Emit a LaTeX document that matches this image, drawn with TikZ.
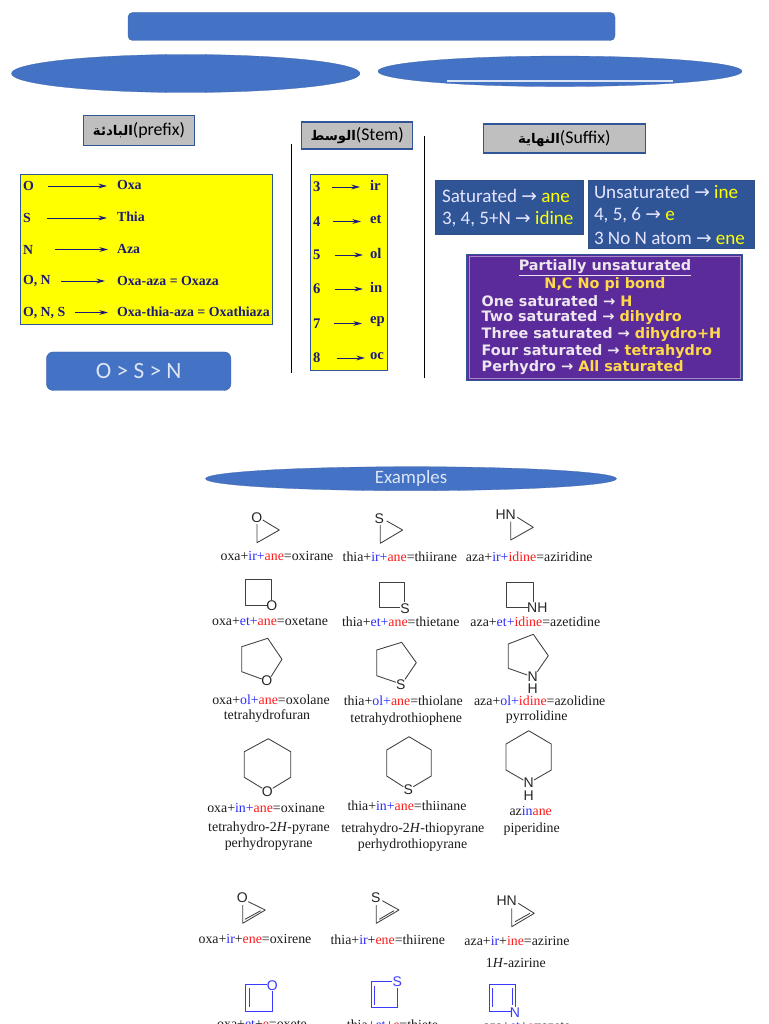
\documentclass[tikz,border=0pt]{standalone}
\usepackage{fontspec}
\setmainfont{Liberation Serif}
\setsansfont{Liberation Sans}
\newfontfamily\carl{Carlito}
\newfontfamily\djv{DejaVu Sans}
\newfontfamily\arabfont[Script=Arabic]{DejaVu Sans}
\TeXXeTstate=1
\usetikzlibrary{shapes.geometric,arrows.meta}
\definecolor{mso}{HTML}{4472C4}
\definecolor{msodark}{HTML}{2F5597}
\definecolor{hdgray}{HTML}{BFBFBF}
\definecolor{navy}{HTML}{1C1C78}
\definecolor{yel}{HTML}{FFFF00}
\definecolor{purp}{HTML}{5B2A9B}
\definecolor{gold}{HTML}{FFD94A}
\definecolor{paleT}{HTML}{EDE6EE}
\definecolor{labblue}{HTML}{2A2AFF}
\definecolor{labred}{HTML}{FF1A1A}
\definecolor{molblue}{HTML}{3A3AFF}
\definecolor{pale}{HTML}{DCE6F5}
\definecolor{inktxt}{HTML}{1A1A1A}
\newcommand{\fs}[1]{\fontsize{#1}{#1}\selectfont}
\newcommand{\bl}[1]{\textcolor{labblue}{#1}}
\newcommand{\rd}[1]{\textcolor{labred}{#1}}
\newcommand{\yl}[1]{\textcolor{yel}{#1}}
\newcommand{\gd}[1]{\textcolor{gold}{#1}}
\newcommand{\ar}{{\djv\fs{14}→}}
\newcommand{\arp}{{\djv\bfseries\fs{11}→}}
\tikzset{
  x=.75pt,y=-.75pt,
  boxbase/.style={inner sep=0,outer sep=0,anchor=center},
  titlebar/.style={boxbase,fill=mso,draw=mso!85!black,line width=.3pt,rounded corners=3.5pt},
  oval/.style={boxbase,ellipse,fill=mso,draw=mso!85!black,line width=.2pt},
  hdbox/.style={boxbase,fill=hdgray,draw=msodark,line width=.8pt,font=\carl\fs{13.4},text=black},
  yelbox/.style={boxbase,fill=yel,draw=msodark,line width=.9pt},
  bluebox/.style={boxbase,fill=msodark,draw=mso!70!black,line width=.5pt},
  purpbox/.style={boxbase,fill=purp,draw=msodark,line width=1pt},
  ytext/.style={inner sep=0,outer sep=0,anchor=west,text=navy,font=\bfseries\fs{10.4}},
  stext/.style={inner sep=0,outer sep=0,anchor=west,text=navy,font=\bfseries\fs{11}},
  arr/.style={draw=navy,line width=.7pt,-{Stealth[length=6.5pt,width=3.6pt]}},
  btext/.style={inner sep=0,outer sep=0,anchor=west,text=white!90!blue,font=\carl\fs{14.3}},
  ptext/.style={inner sep=0,outer sep=0,anchor=west,text=paleT,font=\djv\bfseries\fs{10.8}},
  pcent/.style={inner sep=0,outer sep=0,anchor=center,font=\djv\bfseries\fs{10.8}},
  lab/.style={inner sep=0,outer sep=0,anchor=center,text=inktxt,font=\fs{10.4}},
  atom/.style={inner sep=0,outer sep=0,anchor=center,text=black!85,font=\sffamily\fs{10.5}},
  atomb/.style={atom,text=molblue},
  bond/.style={draw=black!75,line width=.65pt,line join=round},
  bondb/.style={draw=molblue,line width=.75pt,line join=miter},
  vrule/.style={draw=black,line width=.9pt}
}
\begin{document}
\begin{tikzpicture}
\useasboundingbox (0,0) rectangle (768,1024);
\clip (0,0) rectangle (768,1024);

% top banners
\node[titlebar,minimum width=487*.75pt,minimum height=28*.75pt] (title) at (371.5,26.5) {};
\node[oval,minimum width=348.5*.75pt,minimum height=38*.75pt] (ovalL) at (185.7,73.5) {};
\node[oval,minimum width=364*.75pt,minimum height=30.5*.75pt] (ovalR) at (560,71.3) {};
\coordinate (ulA) at (447,81);
\coordinate (ulB) at (673,81);
\draw[pale,line width=1pt] (ulA) -- (ulB);

% headers
\node[hdbox,minimum width=111*.75pt,minimum height=29.5*.75pt] (hdP) at (139,130.3) {{\arabfont\bfseries\fs{10}\beginR البادئة\endR}(prefix)};
\node[hdbox,minimum width=111.5*.75pt,minimum height=27*.75pt] (hdS) at (357.2,135.5) {{\arabfont\bfseries\fs{10}\beginR الوسط\endR}(Stem)};
\node[hdbox,minimum width=162.5*.75pt,minimum height=29*.75pt] (hdF) at (564.3,138.5) {{\arabfont\bfseries\fs{10}\beginR النهاية\endR}(Suffix)};

% dividers
\coordinate (d1a) at (291.5,143.5);
\coordinate (d1b) at (291.5,373);
\coordinate (d2a) at (424.5,135.5);
\coordinate (d2b) at (424.5,377.5);
\draw[vrule] (d1a) -- (d1b);
\draw[vrule] (d2a) -- (d2b);

% prefix table
\node[yelbox,minimum width=252*.75pt,minimum height=150*.75pt] (ybox) at (146.4,249.3) {};
\node[ytext] (p1) at (23,186) {O};
\node[ytext] (q1) at (117,185) {Oxa};
\node[ytext] (p2) at (23,218) {S};
\node[ytext] (q2) at (117,217) {Thia};
\node[ytext] (p3) at (23,249.5) {N};
\node[ytext] (q3) at (117,248.5) {Aza};
\node[ytext] (p4) at (23,281) {O, N};
\node[ytext] (q4) at (117,280.5) {Oxa-aza = Oxaza};
\node[ytext] (p5) at (23,312.5) {O, N, S};
\node[ytext] (q5) at (117,311.5) {Oxa-thia-aza = Oxathiaza};
\draw[arr,shorten <=11pt,shorten >=7.5pt] (p1.east) -- (p1.east -| q1.west);
\draw[arr,shorten <=12.5pt,shorten >=7.5pt] (p2.east) -- (p2.east -| q2.west);
\draw[arr,shorten <=16.5pt,shorten >=6.75pt] (p3.east) -- (p3.east -| q3.west);
\draw[arr,shorten <=8pt,shorten >=9pt] (p4.east) -- (p4.east -| q4.west);
\draw[arr,shorten <=7.5pt,shorten >=6.75pt] (p5.east) -- (p5.east -| q5.west);

% stem table
\node[yelbox,minimum width=77*.75pt,minimum height=196.4*.75pt] (zbox) at (349.2,272.5) {};
\node[stext] (n3) at (313,187) {3};
\node[stext] (s3) at (370,185) {ir};
\node[stext] (n4) at (313,221.5) {4};
\node[stext] (s4) at (370,219) {et};
\node[stext] (n5) at (313,255) {5};
\node[stext] (s5) at (370,253) {ol};
\node[stext] (n6) at (313,289) {6};
\node[stext] (s6) at (370,287) {in};
\node[stext] (n7) at (313,323.5) {7};
\node[stext] (s7) at (370,322) {ep};
\node[stext] (n8) at (313,358) {8};
\node[stext] (s8) at (370,356) {oc};
\draw[arr,shorten <=8.6pt,shorten >=7.5pt] (n3.east) -- (n3.east -| s3.west);
\draw[arr,shorten <=9.3pt,shorten >=6.75pt] (n4.east) -- (n4.east -| s4.west);
\draw[arr,shorten <=10.8pt,shorten >=5.25pt] (n5.east) -- (n5.east -| s5.west);
\draw[arr,shorten <=10.8pt,shorten >=5.25pt] (n6.east) -- (n6.east -| s6.west);
\draw[arr,shorten <=10pt,shorten >=6pt] (n7.east) -- (n7.east -| s7.west);
\draw[arr,shorten <=12.3pt,shorten >=3.75pt] (n8.east) -- (n8.east -| s8.west);

% priority
\node[titlebar,rounded corners=5pt,minimum width=184.5*.75pt,minimum height=38.5*.75pt,text=pale,font=\carl\fs{17.5}] (prio) at (138.7,371.2) {O > S > N};

% suffix boxes
\node[bluebox,minimum width=147.3*.75pt,minimum height=54.3*.75pt] (bA) at (509.3,207.2) {};
\node[bluebox,minimum width=166.7*.75pt,minimum height=68.7*.75pt] (bB) at (671.3,214.4) {};
\node[btext] (a1) at (442,195.7) {Saturated \ar{} \yl{ane}};
\node[btext] (a2) at (442,219) {3, 4, 5+N \ar{} \yl{idine}};
\node[btext] (b1) at (594,191.5) {Unsaturated \ar{} \yl{ine}};
\node[btext] (b2) at (594,215.5) {4, 5, 6 \ar{} \yl{e}};
\node[btext] (b3) at (594,238) {3 No N atom \ar{} \yl{ene}};

% partially unsaturated
\node[purpbox,minimum width=275.3*.75pt,minimum height=126.4*.75pt] (pur) at (604.7,317.5) {};
\node[boxbase,draw=purp!55!white,line width=.7pt,minimum width=271*.75pt,minimum height=122*.75pt] (purin) at (pur.center) {};
\node[pcent,text=paleT] (pu0) at (605,267.7) {\underline{Partially unsaturated}};
\node[pcent,text=gold] (pu1) at (605,284.3) {N,C No pi bond};
\node[ptext] (pu2) at (481.7,301) {One saturated \arp{} \gd{H}};
\node[ptext] (pu3) at (481.7,317.7) {Two saturated \arp{} \gd{dihydro}};
\node[ptext] (pu4) at (481.7,334.7) {Three saturated \arp{} \gd{dihydro+H}};
\node[ptext] (pu5) at (481.7,351.3) {Four saturated \arp{} \gd{tetrahydro}};
\node[ptext] (pu6) at (481.7,368) {Perhydro \arp{} \gd{All saturated}};

% examples banner
\node[oval,minimum width=411*.75pt,minimum height=24*.75pt,text=pale,font=\carl\fs{14.2}] (ex) at (411,478.7) {Examples};

% row 1
\node[atom] (a11) at (256.7,517.7) {O};
\draw[bond] (262.7,520) -- (279.3,530) -- (257,542.7) -- (257,524);
\node[lab] (l11) at (277,555.7) {oxa+\bl{ir+}\rd{ane}=oxirane};
\node[atom] (a12) at (379.3,518.3) {S};
\draw[bond] (386.7,521) -- (402.7,530) -- (380.3,543.3) -- (380.3,525);
\node[lab] (l12) at (399.8,556.3) {thia+\bl{ir+}\rd{ane}=thiirane};
\node[atom] (a13) at (505.7,515) {HN};
\draw[bond] (517.3,517.3) -- (533.3,527.3) -- (510.7,540) -- (510.7,521.7);
\node[lab] (l13) at (529.3,556.3) {aza+\bl{ir+}\rd{idine}=aziridine};

% row 2
\node[atom] (a21) at (271.7,605.3) {O};
\draw[bond] (271.7,600) -- (271.7,579) -- (245.7,579) -- (245.7,605.7) -- (266.5,605.7);
\node[lab] (l21) at (270,621.3) {oxa+\bl{et+}\rd{ane}=oxetane};
\node[atom] (a22) at (405,608.3) {S};
\draw[bond] (404.7,602) -- (404.7,582) -- (379.3,582) -- (379.3,607.3) -- (400,607.3);
\node[lab] (l22) at (400.7,621.7) {thia+\bl{et+}\rd{ane}=thietane};
\node[atom] (a23) at (537.3,608) {NH};
\draw[bond] (533.3,602) -- (533.3,582) -- (506.3,582) -- (506.3,607.3) -- (528,607.3);
\node[lab] (l23) at (535.3,621.7) {aza+\bl{et+}\rd{idine}=azetidine};

% row 3
\node[atom] (a31) at (266.7,681) {O};
\draw[bond] (271,676.7) -- (282,659.3) -- (267.7,638.3) -- (241.7,646.7) -- (241.7,671.7) -- (261.7,679);
\node[lab] (l31) at (271,700) {oxa+\bl{ol+}\rd{ane}=oxolane};
\node[lab] (m31) at (267,716.3) {tetrahydrofuran};
\node[atom] (a32) at (400.7,685) {S};
\draw[bond] (405,679.3) -- (416.3,662.7) -- (401.7,642.3) -- (376.7,650) -- (376.7,675.7) -- (396,682.3);
\node[lab] (l32) at (403.3,700.7) {thia+\bl{ol+}\rd{ane}=thiolane};
\node[lab] (m32) at (406.3,719) {tetrahydrothiophene};
\node[atom] (a33) at (532.7,676.2) {N};
\node[atom] (h33) at (532.7,688.8) {H};
\draw[bond] (537.3,671.7) -- (548.3,655.7) -- (533.3,634.3) -- (508.3,644) -- (508.3,668.3) -- (527.3,675);
\node[lab] (l33) at (539.7,701) {aza+\bl{ol+}\rd{idine}=azolidine};
\node[lab] (m33) at (536.7,717) {pyrrolidine};

% row 4
\node[atom] (a41) at (267.3,791.7) {O};
\draw[bond] (272.7,788.3) -- (290.7,777.3) -- (290.7,751.7) -- (268.3,738.7) -- (244.3,751.7) -- (244.3,777.3) -- (262.3,788.3);
\node[lab] (l41) at (266,808.3) {oxa+\bl{in+}\rd{ane}=oxinane};
\node[lab] (m41) at (269,828) {tetrahydro-2\textit{H}-pyrane};
\node[lab] (k41) at (268.7,844) {perhydropyrane};
\node[atom] (a42) at (408.3,790) {S};
\draw[bond] (413.3,786.7) -- (431.3,776) -- (431.3,750) -- (409,736.7) -- (386.7,750) -- (386.7,776) -- (403.3,786.7);
\node[lab] (l42) at (407,806) {thia+\bl{in+}\rd{ane}=thiinane};
\node[lab] (m42) at (412.8,829.3) {tetrahydro-2\textit{H}-thiopyrane};
\node[lab] (k42) at (412.5,845.3) {perhydrothiopyrane};
\node[atom] (a43) at (528.7,783) {N};
\node[atom] (h43) at (528.7,795.5) {H};
\draw[bond] (534,780) -- (551.3,770) -- (551.3,744) -- (528.7,730.7) -- (506,744) -- (506,770) -- (523.3,780);
\node[lab] (l43) at (530.7,810.7) {az\bl{in}\rd{ane}};
\node[lab] (m43) at (531.7,829) {piperidine};

% row 5
\node[atom] (a51) at (242.3,897.7) {O};
\draw[bond] (248.3,901.7) -- (265.3,910) -- (242.7,923.3) -- (242.7,905);
\draw[bond] (245,919.3) -- (260.7,910.7);
\node[lab] (l51) at (255,939) {oxa+\bl{ir}+\rd{ene}=oxirene};
\node[atom] (a52) at (375.7,897.3) {S};
\draw[bond] (382.3,900.7) -- (399,910) -- (376.3,923.3) -- (376.3,905);
\draw[bond] (379.3,919.3) -- (394,910.7);
\node[lab] (l52) at (387.8,940) {thia+\bl{ir}+\rd{ene}=thiirene};
\node[atom] (a53) at (506.7,901) {HN};
\draw[bond] (518.3,903.3) -- (534.3,913.3) -- (511.7,926.7) -- (511.7,908.3);
\draw[bond] (515,921.7) -- (530,913.3);
\node[lab] (l53) at (517,941) {aza+\bl{ir}+\rd{ine}=azirine};
\node[lab] (m53) at (515.8,962.7) {1\textit{H}-azirine};

% row 6 (cut by the page edge)
\node[atomb] (a61) at (272.3,985.3) {O};
\draw[bondb] (267.2,984.7) -- (245.7,984.7) -- (245.7,1011) -- (272.3,1011) -- (272.3,990.7);
\draw[bondb] (249.3,988.3) -- (249.3,1007.3);
\node[lab] (l61) at (262,1024.5) {oxa+\bl{et}+\rd{e}=oxete};
\node[atomb] (a62) at (397.3,982) {S};
\draw[bondb] (391.7,981.7) -- (371,981.7) -- (371,1007.7) -- (397.7,1007.7) -- (397.7,988.3);
\draw[bondb] (374.7,985.7) -- (374.7,1005);
\node[lab] (l62) at (392.5,1024.5) {thia+\bl{et}+\rd{e}=thiete};
\node[atomb] (a63) at (515,1012.3) {N};
\draw[bondb] (515.7,1006.5) -- (515.7,984.3) -- (489.3,984.3) -- (489.3,1011) -- (510.5,1011);
\draw[bondb] (492.7,988.3) -- (492.7,1007.3);
\draw[bondb] (512.3,988.3) -- (512.3,1005);
\node[lab] (l63) at (527,1027) {aza+\bl{et}+\rd{e}=azete};
\end{tikzpicture}
\end{document}
